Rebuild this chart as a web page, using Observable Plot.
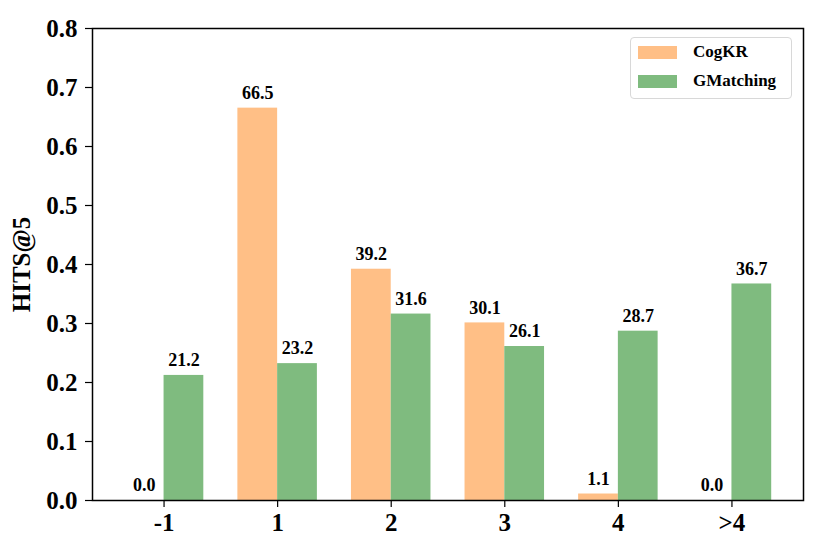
<!DOCTYPE html>
<html>
<head>
<meta charset="utf-8">
<script src="https://cdn.jsdelivr.net/npm/d3@7"></script>
<script src="https://cdn.jsdelivr.net/npm/@observablehq/plot@0.6"></script>
<style>
  html, body { margin: 0; padding: 0; background: #fff; }
  #wrap { position: relative; width: 830px; height: 554px; font-family: "Liberation Serif", "Times New Roman", serif; }
  #wrap svg, #wrap svg text { font-family: "Liberation Serif", "Times New Roman", serif !important; }
  #legend { position: absolute; left: 630px; top: 37px; width: 162px; height: 62px; border: 1.5px solid #d8d8d8; border-radius: 4px; background: #fff; box-sizing: border-box; font-weight: bold; font-size: 17px; font-family: "Liberation Serif", serif; }
  .row { position: absolute; left: 7px; display: flex; align-items: center; }
  .sw { width: 39px; height: 13px; margin-right: 16px; }
</style>
</head>
<body>
<div id="wrap"></div>
<script>
const categories = ["-1", "1", "2", "3", "4", ">4"];
const cogkr = [0.0, 0.665, 0.392, 0.301, 0.011, 0.0];
const gmatching = [0.212, 0.232, 0.316, 0.261, 0.287, 0.367];
const yTicks = [0, 0.1, 0.2, 0.3, 0.4, 0.5, 0.6, 0.7, 0.8];
const seriesNames = ["CogKR", "GMatching"];
const colors = ["#ffbf86", "#7fbb7f"];
const barWidth = 0.35;

const data = [];
categories.forEach((c, i) => {
  data.push({i, series: seriesNames[0], value: cogkr[i], x1: i - barWidth, x2: i});
  data.push({i, series: seriesNames[1], value: gmatching[i], x1: i, x2: i + barWidth});
});

const font = '"Liberation Serif", "Times New Roman", serif';

const chart = Plot.plot({
  width: 830,
  height: 554,
  marginLeft: 92,
  marginRight: 27,
  marginTop: 28,
  marginBottom: 54,
  style: {fontFamily: font, background: "#fff", overflow: "visible"},
  x: {domain: [-0.63, 5.63], ticks: categories.map((c, i) => i), tickFormat: i => categories[i], label: null},
  y: {domain: [0, 0.8], ticks: yTicks, tickFormat: d3.format(".1f"), label: null},
  color: {domain: seriesNames, range: colors},
  marks: [
    Plot.rectY(data, {x1: "x1", x2: "x2", y1: 0, y2: "value", fill: "series"}),
    Plot.text(data, {x: d => (d.x1 + d.x2) / 2, y: "value", text: d => (d.value * 100).toFixed(1), dy: -15, fontSize: 18, fontWeight: "bold", fill: "#000", fontFamily: font}),
    Plot.frame({stroke: "#000", strokeWidth: 1.5}),
    Plot.axisX({ticks: categories.map((c, i) => i), tickFormat: i => categories[i], fontSize: 25, fontWeight: "bold", tickSize: 7, tickPadding: 6, stroke: "#000", strokeWidth: 1.2, fill: "#000", fontFamily: font}),
    Plot.axisY({ticks: yTicks, tickFormat: d3.format(".1f"), fontSize: 25, fontWeight: "bold", tickSize: 7, tickPadding: 8, stroke: "#000", strokeWidth: 1.2, fill: "#000", fontFamily: font}),
    Plot.text(["HITS@5"], {frameAnchor: "left", textAnchor: "middle", dx: -71, rotate: -90, fontSize: 25, fontWeight: "bold", fill: "#000", fontFamily: font})
  ]
});

const wrap = document.getElementById("wrap");
wrap.appendChild(chart);

const legend = document.createElement("div");
legend.id = "legend";
seriesNames.forEach((name, k) => {
  const row = document.createElement("div");
  row.className = "row";
  row.style.top = (k === 0 ? 2 : 31) + "px";
  row.style.height = "24px";
  const sw = document.createElement("div");
  sw.className = "sw";
  sw.style.background = colors[k];
  const label = document.createElement("span");
  label.textContent = name;
  row.appendChild(sw);
  row.appendChild(label);
  legend.appendChild(row);
});
wrap.appendChild(legend);
</script>
</body>
</html>
